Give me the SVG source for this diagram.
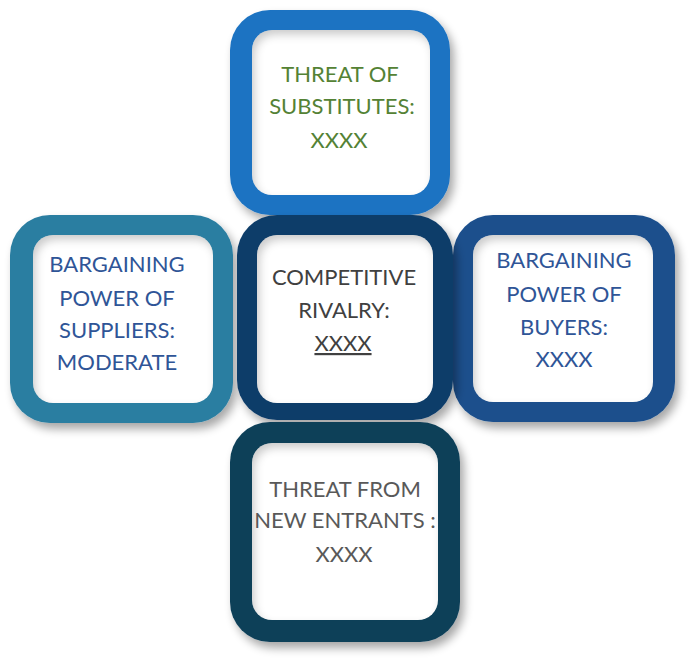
<svg xmlns="http://www.w3.org/2000/svg" width="700" height="668" viewBox="0 0 700 668">
<defs>
<filter id="drop" x="-20%" y="-20%" width="140%" height="140%">
<feGaussianBlur in="SourceAlpha" stdDeviation="5"/>
<feOffset dx="4" dy="6" result="b"/>
<feComponentTransfer><feFuncA type="linear" slope="0.35"/></feComponentTransfer>
<feMerge><feMergeNode/><feMergeNode in="SourceGraphic"/></feMerge>
</filter>
<filter id="inset" x="-10%" y="-10%" width="120%" height="120%">
<feFlood flood-color="#000" flood-opacity="0.4"/>
<feComposite in2="SourceAlpha" operator="out"/>
<feGaussianBlur stdDeviation="4"/>
<feOffset dx="3" dy="5" result="s"/>
<feComposite in="s" in2="SourceAlpha" operator="in" result="sh"/>
<feMerge><feMergeNode in="SourceGraphic"/><feMergeNode in="sh"/></feMerge>
</filter>
</defs>
<style>
.inner{fill:#ffffff;filter:url(#inset)}
.outer{filter:url(#drop)}
text{font-family:Lato,"Open Sans","Liberation Sans",sans-serif;font-size:22px;text-anchor:middle}
.green{fill:#548235}
.blue{fill:#2f5597}
.dgray{fill:#404040}
.gray{fill:#595959}
</style>
<rect width="700" height="668" fill="#ffffff"/>
<g id="top-substitutes">
<rect class="outer" x="230" y="10" width="220" height="205" rx="40" fill="#1b73c2"/>
<rect class="inner" x="252" y="30" width="178" height="165" rx="20"/>
<text class="green" x="340" y="82">THREAT OF</text>
<text class="green" x="342" y="114">SUBSTITUTES:</text>
<text class="green" x="339" y="148">XXXX</text>
</g>
<g id="left-suppliers">
<rect class="outer" x="10" y="215" width="223" height="208" rx="40" fill="#2c7ea1"/>
<rect class="inner" x="33" y="235" width="180" height="168" rx="20"/>
<text class="blue" x="117" y="272">BARGAINING</text>
<text class="blue" x="117" y="306">POWER OF</text>
<text class="blue" x="117" y="338">SUPPLIERS:</text>
<text class="blue" x="117" y="370">MODERATE</text>
</g>
<g id="right-buyers">
<rect class="outer" x="453" y="215" width="222" height="207" rx="40" fill="#1b4f8c"/>
<rect class="inner" x="473" y="235" width="180" height="167" rx="20"/>
<text class="blue" x="564" y="268">BARGAINING</text>
<text class="blue" x="564" y="302">POWER OF</text>
<text class="blue" x="564" y="335">BUYERS:</text>
<text class="blue" x="564" y="367">XXXX</text>
</g>
<g id="center-rivalry">
<rect class="outer" x="237" y="215" width="216" height="205" rx="40" fill="#0e3c69"/>
<rect class="inner" x="257" y="235" width="176" height="168" rx="20"/>
<text class="dgray" x="344" y="285">COMPETITIVE</text>
<text class="dgray" x="344" y="318">RIVALRY:</text>
<text class="dgray" x="343" y="351" text-decoration="underline">XXXX</text>
</g>
<g id="bottom-entrants">
<rect class="outer" x="230" y="422" width="230" height="220" rx="40" fill="#0d3f59"/>
<rect class="inner" x="252" y="443" width="186" height="177" rx="20"/>
<text class="gray" x="345" y="497">THREAT FROM</text>
<text class="gray" x="345" y="528">NEW ENTRANTS :</text>
<text class="gray" x="344" y="562">XXXX</text>
</g>
<g id="connectors"/>
</svg>
